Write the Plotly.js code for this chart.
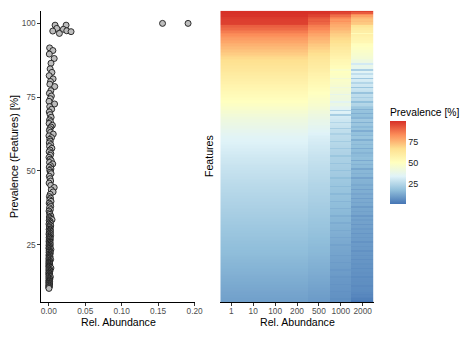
<!DOCTYPE html>
<html>
<head>
<meta charset="utf-8">
<script src="https://cdn.plot.ly/plotly-3.0.1.min.js"></script>
<style>html,body{margin:0;padding:0;background:#fff;}#chart{width:474px;height:338px;}</style>
</head>
<body>
<div id="chart"></div>
<script>
// Detection thresholds (heatmap columns)
const thresholds = ['1', '10', '100', '200', '500', '1000', '2000'];

// Prevalence [%] per feature (sorted, highest first); columns 1, 10, 100 and 200 look identical
const prevalence = [
  100, 100, 99.4, 99.4, 98.3, 98.0, 97.5, 97.4, 97.2, 96.6,
  91.7, 90.8, 89.6, 88.1, 86.5, 84.6, 83.4, 82.3, 81.2, 80.3, 79.4, 78.6,
  77.2, 76.3, 75.4, 74.5, 73.6, 72.7, 71.8, 70.9, 70.0, 69.1, 68.2,
  67.3, 66.7, 66.1, 65.5, 64.9, 64.3, 63.7, 63.1, 62.5, 61.9, 61.3, 60.7, 60.1, 59.5, 58.9, 58.3, 57.7, 57.1, 56.5, 55.9, 55.3,
  54.6, 54.0, 53.5, 52.9, 52.4, 51.8, 51.3, 50.7, 50.2, 49.6, 49.1,
  48.2, 47.4, 46.6, 45.9, 45.1, 44.4, 43.6, 42.9, 42.1,
  41.3, 40.8, 40.2, 39.7, 39.1, 38.6, 38.0, 37.5, 36.9, 36.4, 35.8, 35.3,
  34.7, 34.4, 34.1, 33.8, 33.5, 33.2, 32.9, 32.6, 32.3, 32.0, 31.7, 31.4, 31.1, 30.8,
  30.4, 30.2, 30.0, 29.7, 29.5, 29.3, 29.0, 28.8, 28.6, 28.3, 28.1, 27.9, 27.6, 27.4, 27.2, 26.9, 26.7,
  26.4, 26.2, 26.0, 25.8, 25.6, 25.4, 25.2, 25.0, 24.8, 24.6, 24.4, 24.2, 24.0, 23.8, 23.6, 23.4,
  23.2, 23.0, 22.8, 22.6, 22.4, 22.2, 22.0, 21.8, 21.6, 21.4, 21.2, 21.0, 20.8, 20.6, 20.4, 20.2,
  20.0, 19.8, 19.6, 19.4, 19.2, 19.0, 18.8, 18.6, 18.4, 18.2, 18.0, 17.8, 17.6, 17.5, 17.4, 17.3,
  17.1, 16.9, 16.7, 16.5, 16.3, 16.1, 15.9, 15.7, 15.5, 15.3, 15.1, 14.9, 14.7, 14.5, 14.3, 14.1, 13.9, 13.7,
  13.5, 13.3, 13.1, 12.9, 12.7, 12.5, 12.3, 12.1, 11.9, 11.7, 11.5, 11.3, 11.1, 10.9, 10.7, 10.5, 10.2
];

// Prevalence [%] at detection 500
const prev500 = [
  100, 99.5, 97.6, 96.8, 94.2, 93.1, 91.6, 92.3, 90.4, 89.5,
  86.4, 85.1, 84.3, 82.6, 81.4, 79.6, 78.8, 77.5, 76.6, 75.9, 74.8, 74.2,
  72.9, 71.8, 71.2, 70.1, 69.4, 68.3, 67.7, 66.6, 65.9, 65.0, 64.2,
  63.3, 62.9, 62.2, 61.8, 61.0, 60.6, 59.9, 59.4, 58.8, 58.3, 57.6, 57.2, 56.5, 56.0, 55.4, 54.9, 54.2, 53.8, 53.1, 52.6, 52.0,
  51.4, 50.9, 50.3, 49.8, 49.3, 48.7, 48.2, 47.7, 47.2, 46.6, 46.2,
  45.4, 44.6, 43.9, 43.2, 42.4, 41.8, 41.0, 40.4, 39.6,
  38.9, 38.4, 37.8, 37.4, 36.8, 36.3, 35.7, 35.3, 34.7, 34.2, 33.7, 33.2,
  32.6, 32.4, 32.0, 31.8, 31.5, 31.2, 30.9, 30.6, 30.4, 30.1, 29.8, 29.5, 29.2, 29.0,
  28.6, 28.4, 28.2, 27.9, 27.7, 27.5, 27.3, 27.1, 26.9, 26.6, 26.4, 26.2, 26.0, 25.8, 25.6, 25.3, 25.1,
  24.8, 24.6, 24.4, 24.3, 24.1, 23.9, 23.7, 23.5, 23.3, 23.1, 22.9, 22.7, 22.6, 22.4, 22.2, 22.0,
  21.8, 21.6, 21.4, 21.2, 21.1, 20.9, 20.7, 20.5, 20.3, 20.1, 19.9, 19.7, 19.6, 19.4, 19.2, 19.0,
  18.8, 18.6, 18.4, 18.2, 18.0, 17.9, 17.7, 17.5, 17.3, 17.1, 16.9, 16.7, 16.5, 16.4, 16.3, 16.2,
  16.0, 15.8, 15.6, 15.4, 15.2, 15.0, 14.8, 14.6, 14.4, 14.2, 14.0, 13.8, 13.6, 13.4, 13.2, 13.0, 12.8, 12.6,
  12.4, 12.2, 12.0, 11.8, 11.6, 11.4, 11.2, 11.0, 10.8, 10.6, 10.4, 10.2, 10.0, 9.8, 9.6, 9.4, 9.2
];

// Prevalence [%] at detection 1000
const prev1000 = [
  98.6, 96.4, 91.8, 89.2, 85.7, 83.9, 81.2, 82.5, 79.6, 78.1,
  77.4, 76.2, 75.3, 73.9, 72.8, 71.1, 70.4, 69.6, 68.8, 68.0, 67.2, 66.5,
  65.0, 64.1, 63.3, 62.0, 61.6, 60.4, 59.8, 58.9, 58.2, 57.5, 56.6,
  55.4, 54.8, 54.1, 53.5, 52.6, 52.1, 51.4, 47.2, 50.6, 50.0, 49.5, 48.9, 48.4, 44.1, 47.6, 47.1, 46.6, 46.0, 45.5, 41.8, 44.6,
  44.0, 43.3, 42.8, 37.9, 41.9, 41.3, 40.8, 40.2, 35.6, 39.5, 39.0,
  36.9, 35.8, 34.6, 24.3, 33.5, 32.8, 22.1, 31.6, 30.9,
  30.2, 29.8, 24.6, 29.1, 28.7, 28.3, 21.9, 27.6, 27.3, 26.9, 23.0, 26.4,
  26.1, 25.9, 25.6, 21.4, 25.2, 25.0, 24.7, 24.5, 20.6, 24.1, 23.9, 23.6, 23.4, 19.8,
  23.1, 22.9, 22.7, 22.5, 19.0, 22.2, 22.0, 21.8, 21.6, 18.3, 21.3, 21.1, 20.9, 20.7, 17.6, 20.4, 20.2,
  20.0, 19.8, 19.6, 16.7, 19.3, 19.1, 18.9, 18.7, 16.0, 18.4, 18.2, 18.0, 17.8, 15.2, 17.5, 17.3,
  17.1, 16.9, 14.5, 16.6, 16.4, 16.2, 16.0, 13.8, 15.7, 15.5, 15.3, 15.1, 13.1, 14.8, 14.6, 14.4,
  14.2, 12.4, 13.9, 13.7, 13.5, 13.3, 11.7, 13.0, 12.8, 12.6, 12.4, 11.0, 12.1, 11.9, 11.8, 11.6,
  11.4, 11.3, 10.0, 11.0, 10.9, 10.7, 10.6, 9.4, 10.3, 10.2, 10.0, 9.9, 8.8, 9.6, 9.5, 9.3, 9.2, 8.2,
  8.9, 8.8, 8.6, 8.5, 7.6, 8.3, 8.1, 8.0, 7.9, 7.1, 7.7, 7.5, 7.4, 7.3, 6.6, 7.1, 7.0
];

// Prevalence [%] at detection 2000
const prev2000 = [
  97.2, 92.5, 84.1, 79.6, 76.3, 74.8, 72.9, 73.5, 71.6, 70.8,
  64.5, 62.8, 61.2, 60.1, 59.3, 52.4, 58.2, 57.6, 56.9, 56.1, 55.4, 54.6,
  51.8, 50.9, 50.2, 49.4, 48.7, 47.9, 47.3, 46.4, 45.8, 45.0, 44.3,
  42.1, 41.0, 39.8, 31.2, 38.5, 37.4, 36.6, 22.9, 35.1, 34.3, 27.5, 33.2, 32.6, 20.4, 31.8, 31.1, 24.6, 30.5, 29.9, 19.6, 29.2,
  28.6, 27.9, 18.8, 27.1, 26.6, 22.0, 26.0, 25.5, 17.9, 24.9, 24.4,
  21.2, 19.8, 14.6, 18.9, 18.3, 13.8, 17.9, 17.4, 15.2,
  20.6, 20.1, 14.2, 19.7, 19.3, 16.4, 18.9, 18.6, 13.5, 18.2, 17.9, 15.6,
  19.2, 18.9, 13.8, 18.5, 18.2, 15.9, 17.9, 17.6, 13.1, 17.3, 17.0, 15.0, 16.8, 16.5,
  17.8, 17.5, 12.6, 17.1, 16.8, 14.6, 16.5, 16.2, 12.0, 15.9, 15.7, 13.8, 15.4, 15.1, 11.5, 14.9, 14.6,
  14.4, 14.2, 12.4, 14.0, 13.8, 10.6, 13.6, 13.4, 11.7, 13.2, 13.0, 10.1, 12.8, 12.6, 11.0, 12.4,
  12.2, 9.5, 12.0, 11.8, 10.4, 11.6, 11.5, 9.0, 11.3, 11.1, 9.8, 10.9, 10.8, 8.5, 10.6, 10.4,
  9.2, 10.2, 10.1, 8.0, 9.9, 9.8, 8.7, 9.6, 9.5, 7.6, 9.3, 9.2, 8.2, 9.0, 8.9, 7.2,
  8.7, 8.6, 7.7, 8.4, 8.3, 6.8, 8.1, 8.0, 7.3, 7.8, 7.7, 6.4, 7.5, 7.4, 6.9, 7.2, 7.1, 6.0,
  6.9, 6.8, 6.5, 6.6, 6.5, 5.6, 6.3, 6.2, 6.1, 6.0, 5.4, 4.6, 5.0, 4.3, 3.6, 2.5, 0.9
];

// Relative abundance per feature (same order as prevalence)
const relAbundance = [
  0.156, 0.191, 0.0087, 0.0238, 0.011, 0.020, 0.0247, 0.0055, 0.0306, 0.0146,
  0.0012, 0.0057, 0.0008, 0.0075, 0.0031, 0.0019, 0.0044, 0.0006, 0.0060, 0.0024, 0.0015, 0.0082,
  0.0029, 0.0009, 0.0036, 0.0021, 0.0004, 0.0080, 0.0013,
  0.0040, 0.0007, 0.0018, 0.0033, 0.0011, 0.0023, 0.0005, 0.0050, 0.0030, 0.0016, 0.0009, 0.0025, 0.0062, 0.0003, 0.0038, 0.0014,
  0.0020, 0.0008, 0.0027, 0.0011, 0.0043, 0.0017, 0.0006, 0.0029, 0.0022, 0.0004, 0.0019, 0.0034, 0.0010, 0.0055, 0.0024, 0.0007,
  0.0030, 0.0014, 0.0021, 0.0032, 0.0008, 0.0018, 0.0026, 0.0005, 0.0028, 0.0075, 0.0035, 0.0060, 0.0020, 0.0009, 0.0024, 0.0015, 0.0031, 0.0006, 0.0019, 0.0027, 0.0010,
  0.0022, 0.0004, 0.0012, 0.0017, 0.0029, 0.0008, 0.0013, 0.0025, 0.0045, 0.0006,
  0.0019, 0.0011, 0.0023, 0.0003, 0.0016, 0.0027, 0.0009, 0.0014, 0.0021, 0.0005, 0.0018, 0.0012, 0.0024, 0.0007, 0.0015, 0.0020, 0.0003, 0.0011, 0.0026,
  0.0009, 0.0017, 0.0005, 0.0013, 0.0022, 0.0008, 0.0016, 0.0004, 0.0012, 0.0019, 0.0006, 0.0014, 0.0010, 0.0021, 0.0003, 0.0011, 0.0016, 0.0007, 0.0013,
  0.0002, 0.0009, 0.0030, 0.0012, 0.0006, 0.0015, 0.0009, 0.0004, 0.0022, 0.0011, 0.0007, 0.0014, 0.0003, 0.0010, 0.0018, 0.0005, 0.0012,
  0.0008, 0.0002, 0.0026, 0.0009, 0.0004, 0.0011, 0.0006, 0.0003, 0.0008, 0.0005, 0.0013, 0.0002, 0.0010, 0.0004, 0.0007, 0.0015, 0.0003,
  0.0009, 0.0030, 0.0005, 0.0012, 0.0002, 0.0008, 0.0017, 0.0004, 0.0010, 0.0006, 0.0001, 0.0013, 0.0007, 0.0003, 0.0011, 0.0005, 0.0022, 0.0002,
  0.0009, 0.0006, 0.0014, 0.0003, 0.0008, 0.0004, 0.0012, 0.0001, 0.0007, 0.0005, 0.0010, 0.0003, 0.0006, 0.0002, 0.0009, 0.0004, 0.0001, 0.0003
];

const xTicks = [0, 0.05, 0.10, 0.15, 0.20];
const yTicks = [25, 50, 75, 100];
const cbTicks = [25, 50, 75];

const n = prevalence.length;
[prev500, prev1000, prev2000, relAbundance].forEach((a, k) => {
  if (a.length !== n) throw new Error('length mismatch in array ' + k + ': ' + a.length + ' vs ' + n);
});

const featureIdx = prevalence.map((_, i) => i);
const z = prevalence.map((p, i) => [p, p, p, p, prev500[i], prev1000[i], prev2000[i]]);

const FONT = 'Liberation Sans, Arial, Helvetica, sans-serif';
const tickFont = {family: FONT, size: 8.3, color: '#4d4d4d'};
const titleFont = {family: FONT, size: 10.6, color: '#000'};

const scatter = {
  type: 'scatter', mode: 'markers',
  x: relAbundance, y: prevalence,
  xaxis: 'x', yaxis: 'y',
  marker: {size: 6, color: '#bdbdbd', line: {color: '#1a1a1a', width: 0.9}},
  hoverinfo: 'x+y', showlegend: false
};

const heat = {
  type: 'heatmap',
  x: thresholds, y: featureIdx, z: z,
  xaxis: 'x2', yaxis: 'y2',
  zsmooth: false,
  colorscale: [
    [0, '#4575B4'], [1/6, '#91BFDB'], [2/6, '#E0F3F8'], [0.5, '#FFFFBF'],
    [4/6, '#FEE090'], [5/6, '#FC8D59'], [1, '#D73027']
  ],
  colorbar: {
    title: {text: 'Prevalence [%]', side: 'top', font: {family: FONT, size: 10.3, color: '#000'}},
    x: 390/474, xanchor: 'left', xref: 'paper',
    y: (338-154.5)/338, yanchor: 'middle', yref: 'paper',
    len: 99, lenmode: 'pixels', thickness: 16, thicknessmode: 'pixels',
    outlinewidth: 0, ticks: '', tickvals: cbTicks,
    tickfont: {family: FONT, size: 9, color: '#1a1a1a'},
    xpad: 0, ypad: 0
  },
  hoverinfo: 'x+z'
};

const yDom = [(338-302.3)/338, (338-10.7)/338];
const axisCommon = {
  ticks: 'outside', ticklen: 3, tickwidth: 1, tickcolor: '#333',
  showline: true, linecolor: '#000', linewidth: 1,
  showgrid: false, zeroline: false, automargin: false
};
const layout = {
  width: 474, height: 338,
  margin: {l: 0, r: 0, t: 0, b: 0},
  paper_bgcolor: '#fff', plot_bgcolor: '#fff',
  font: {family: FONT},
  xaxis: Object.assign({}, axisCommon, {
    domain: [41.3/474, 195/474], range: [-0.0102, 0.2005],
    tickvals: xTicks, tickformat: '.2f', tickfont: tickFont, tickangle: 0,
    ticklabelstandoff: -2
  }),
  yaxis: Object.assign({}, axisCommon, {
    domain: yDom, range: [5.5, 104.3],
    tickvals: yTicks, tickfont: tickFont,
    title: {text: 'Prevalence (Features) [%]', font: titleFont, standoff: 1}
  }),
  xaxis2: Object.assign({}, axisCommon, {
    domain: [220.3/474, 373.7/474], type: 'category',
    tickfont: tickFont, tickangle: 0, ticklabelstandoff: -2
  }),
  yaxis2: Object.assign({}, axisCommon, {
    domain: yDom, autorange: 'reversed',
    showticklabels: false, ticks: ''
  }),
  annotations: [
    {text: 'Rel. Abundance', showarrow: false, xref: 'paper', yref: 'paper',
     x: 118/474, y: (338-322)/338, xanchor: 'center', yanchor: 'middle', font: titleFont},
    {text: 'Rel. Abundance', showarrow: false, xref: 'paper', yref: 'paper',
     x: 297/474, y: (338-322)/338, xanchor: 'center', yanchor: 'middle', font: titleFont},
    {text: 'Features', textangle: -90, showarrow: false, xref: 'paper', yref: 'paper',
     x: 209/474, y: (338-156)/338, xanchor: 'center', yanchor: 'middle', font: titleFont}
  ]
};

Plotly.newPlot('chart', [scatter, heat], layout, {displayModeBar: false, staticPlot: true});
</script>
</body>
</html>
